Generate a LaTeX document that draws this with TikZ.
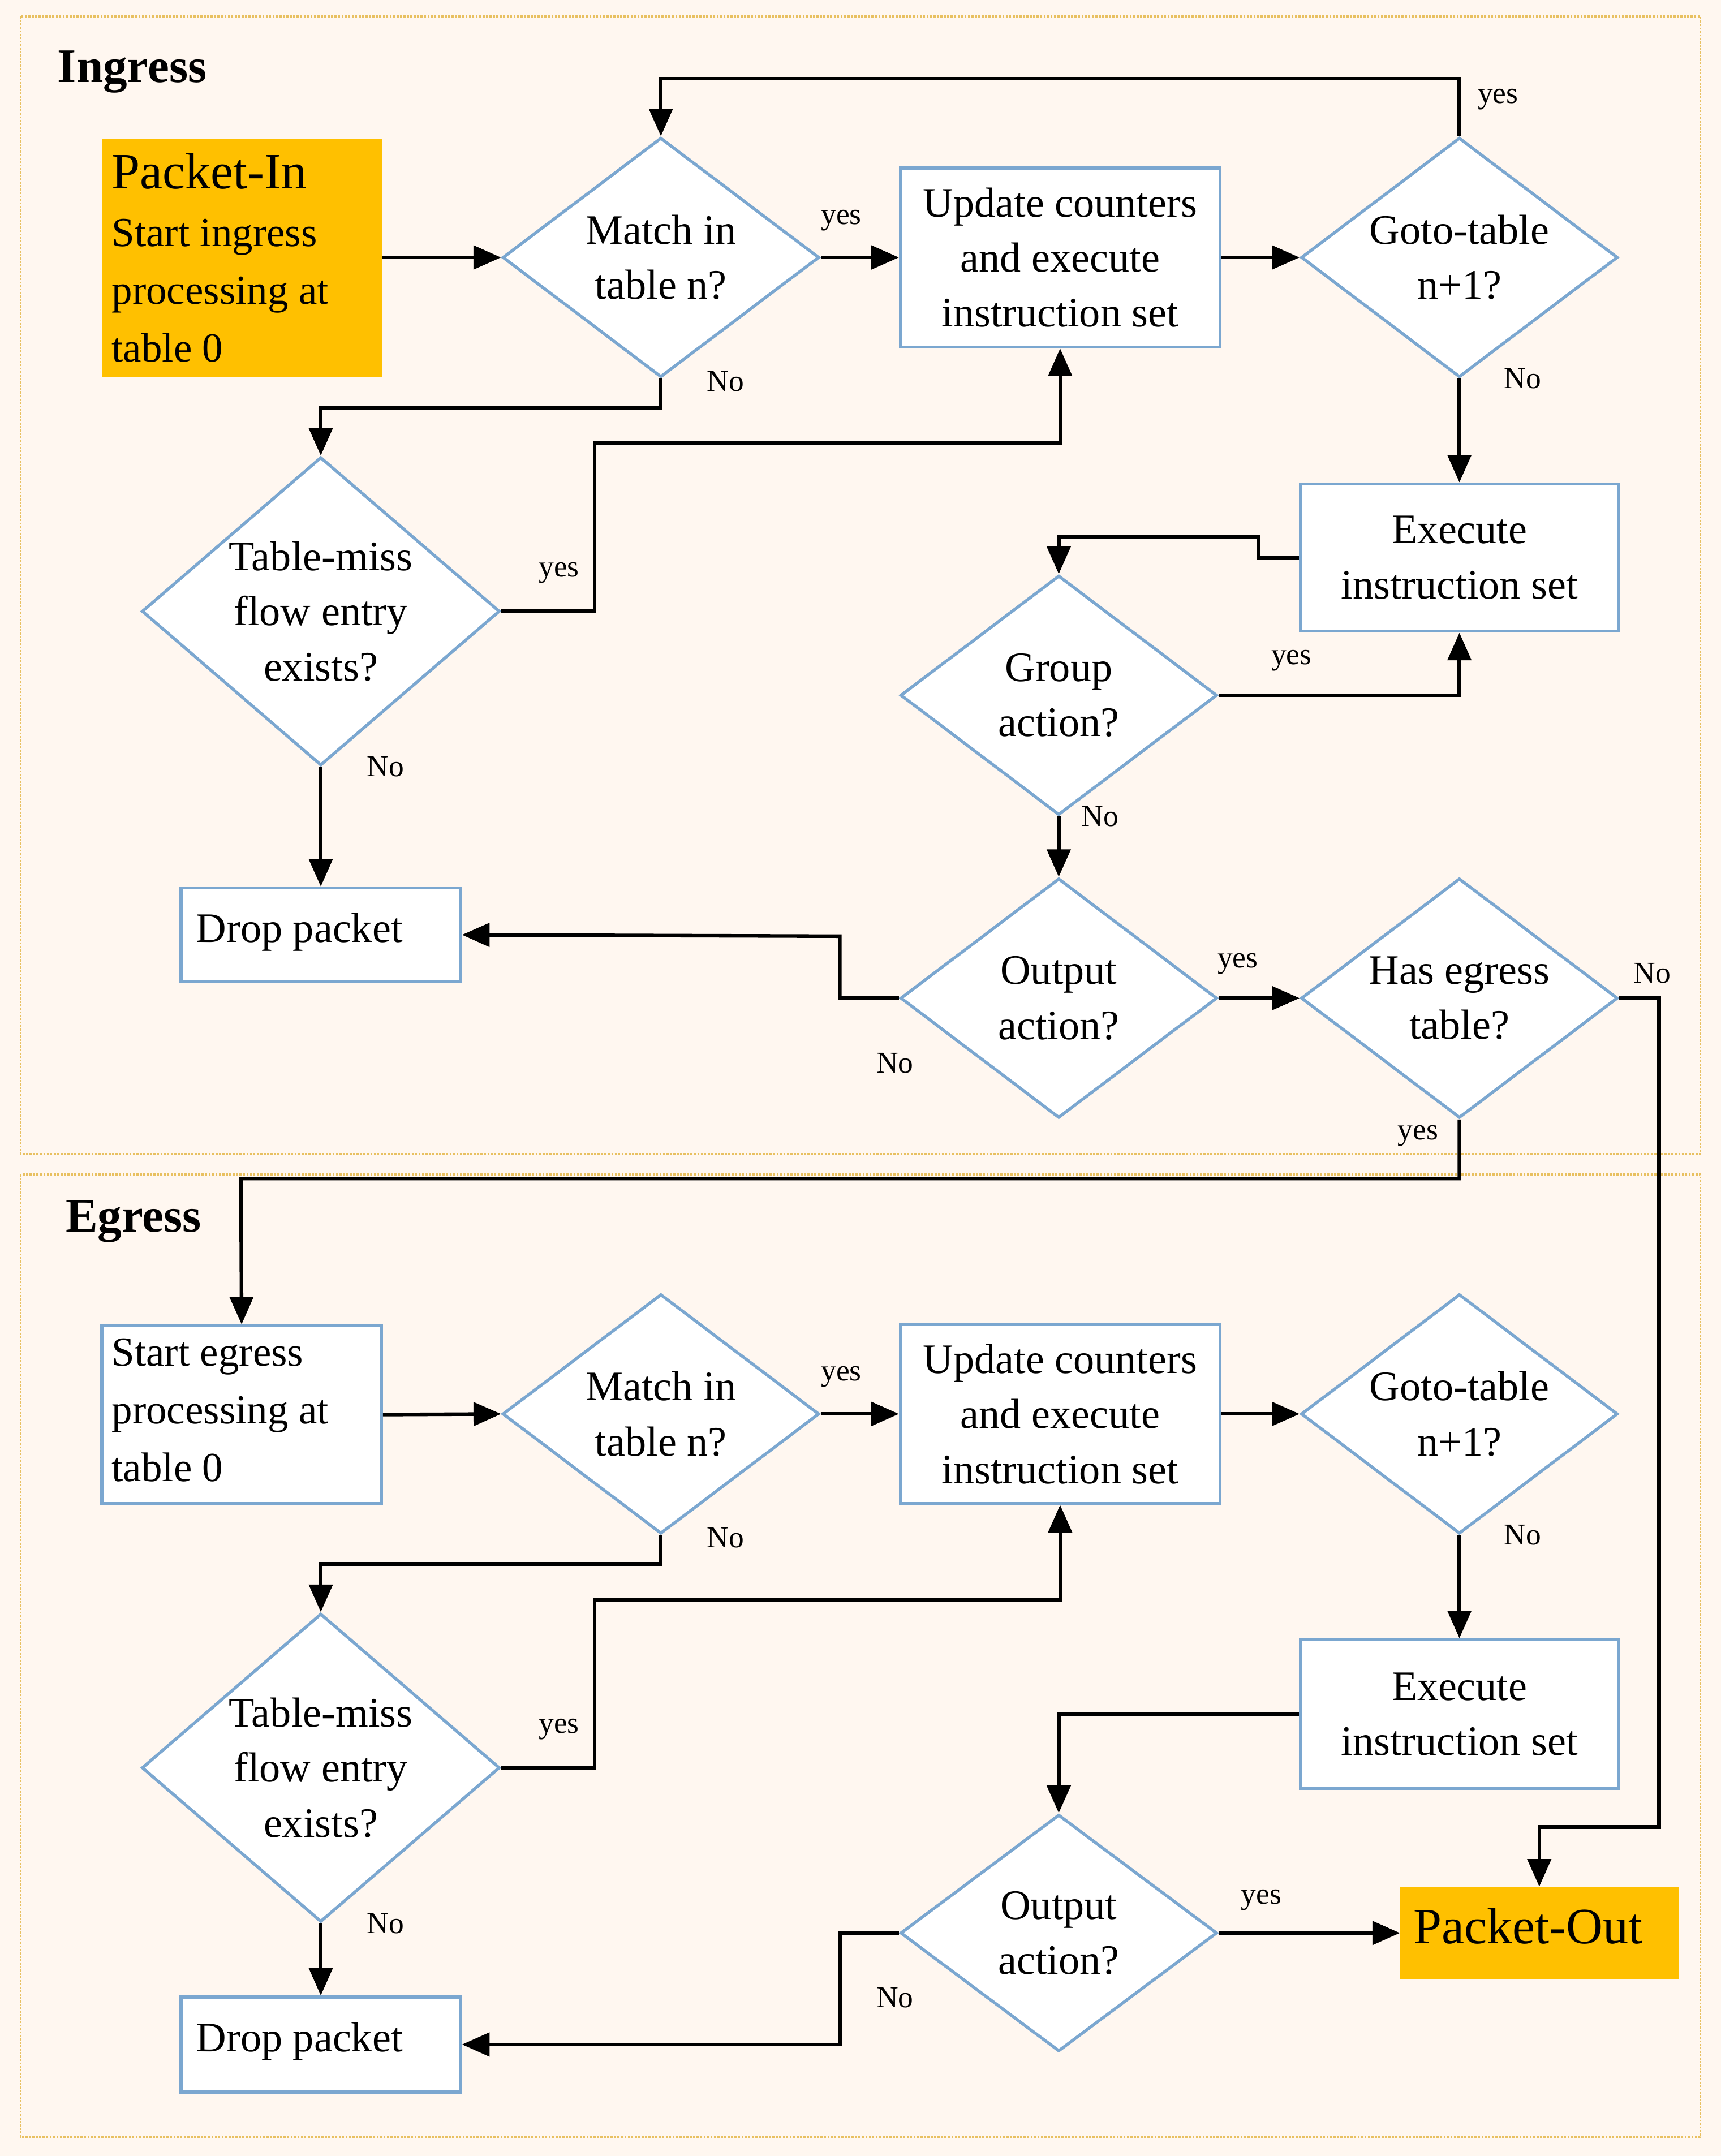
\documentclass[tikz,border=0pt]{standalone}
\usepackage{fontspec}
\setmainfont{Liberation Serif}
\usetikzlibrary{shapes.geometric,arrows.meta}
\definecolor{bx}{HTML}{7BA7D0}
\definecolor{org}{HTML}{FFC000}
\definecolor{frm}{HTML}{E8C060}
\begin{document}
\begin{tikzpicture}[x=1pt,y=-1pt,
  box/.style={draw=bx,line width=2.2pt,fill=white,inner sep=0pt},
  dia/.style={shape=diamond,draw=bx,line width=2.2pt,fill=white,inner sep=0pt},
  txt/.style={align=center,font=\fontsize{30.5}{40}\selectfont},
  lab/.style={font=\fontsize{22}{24}\selectfont},
  con/.style={line width=2.6pt,-{Triangle[length=20pt,width=17pt]}},
  frame/.style={draw=frm,densely dotted,line width=1.5pt}]
\useasboundingbox (0,0) rectangle (1250,1566);
\fill[orange!6] (0,0) rectangle (1250,1566);
\draw[frame] (15,12) rectangle (1235,838);
\draw[frame] (15,853) rectangle (1235,1552);
\node[font=\fontsize{35}{38}\selectfont\bfseries] (ti) at (96,52) {Ingress};
\node[font=\fontsize{35}{38}\selectfont\bfseries] (te) at (97,887) {Egress};

% ---------- Ingress ----------
\node[fill=org,minimum width=203pt,minimum height=173pt,inner sep=0pt] (pin) at (176,187) {};
\node[align=left,anchor=north west,inner sep=0pt,font=\fontsize{30}{42}\selectfont] (pint) at (81,111)
 {{\fontsize{37}{42}\selectfont\underline{Packet-In}}\\Start ingress\\processing at\\table 0};
\node[dia,minimum width=230pt,minimum height=174pt] (m1) at (480,187) {};
\node[txt] at (m1) {Match in\\table n?};
\node[box,minimum width=232pt,minimum height=130pt] (u1) at (770,187) {};
\node[txt] at (u1) {Update counters\\and execute\\instruction set};
\node[dia,minimum width=230pt,minimum height=174pt] (g1) at (1060,187) {};
\node[txt] at (g1) {Goto-table\\n+1?};
\node[dia,minimum width=260pt,minimum height=224pt] (t1) at (233,444) {};
\node[txt] at (t1) {Table-miss\\flow entry\\exists?};
\node[box,minimum width=231pt,minimum height=107pt] (e1) at (1060,405) {};
\node[txt] at (e1) {Execute\\instruction set};
\node[dia,minimum width=230pt,minimum height=174pt] (gr) at (769,505) {};
\node[txt] at (gr) {Group\\action?};
\node[box,minimum width=203pt,minimum height=68pt] (d1) at (233,679) {};
\node[txt,anchor=west] at (139,677) {Drop packet};
\node[dia,minimum width=230pt,minimum height=174pt] (o1) at (769,725) {};
\node[txt] at (o1) {Output\\action?};
\node[dia,minimum width=230pt,minimum height=174pt] (he) at (1060,725) {};
\node[txt] at (he) {Has egress\\table?};

% ---------- Egress ----------
\node[box,minimum width=203pt,minimum height=129pt] (se) at (175.5,1027.5) {};
\node[align=left,anchor=north west,inner sep=0pt,font=\fontsize{30}{42}\selectfont] (set) at (81,972)
 {Start egress\\processing at\\table 0};
\node[dia,minimum width=230pt,minimum height=174pt] (m2) at (480,1027) {};
\node[txt] at (m2) {Match in\\table n?};
\node[box,minimum width=232pt,minimum height=130pt] (u2) at (770,1027) {};
\node[txt] at (u2) {Update counters\\and execute\\instruction set};
\node[dia,minimum width=230pt,minimum height=174pt] (g2) at (1060,1027) {};
\node[txt] at (g2) {Goto-table\\n+1?};
\node[dia,minimum width=260pt,minimum height=224pt] (t2) at (233,1284) {};
\node[txt] at (t2) {Table-miss\\flow entry\\exists?};
\node[box,minimum width=231pt,minimum height=108pt] (e2) at (1060,1245) {};
\node[txt] at (e2) {Execute\\instruction set};
\node[dia,minimum width=230pt,minimum height=172pt] (o2) at (769,1404) {};
\node[txt] at (o2) {Output\\action?};
\node[box,minimum width=203pt,minimum height=69pt] (d2) at (233,1485) {};
\node[txt,anchor=west] at (139,1483) {Drop packet};
\node[fill=org,minimum width=202pt,minimum height=67pt,inner sep=0pt] (pout) at (1118,1404) {};
\node[font=\fontsize{37}{40}\selectfont] at (1110,1400) {\underline{Packet-Out}};

% ---------- connectors ingress ----------
\draw[con] (pin.east) -- (m1.west);
\draw[con] (m1.east) -- (u1.west);
\draw[con] (u1.east) -- (g1.west);
\draw[con] (g1.north) -- (1060,57) -- (480,57) -- (m1.north);
\draw[con] (m1.south) -- (480,296) -- (233,296) -- (t1.north);
\draw[con] (t1.east) -- (432,444) -- (432,322) -- (770,322) -- (u1.south);
\draw[con] (t1.south) -- (d1.north);
\draw[con] (g1.south) -- (e1.north);
\draw[con] (e1.west) -- (914,405) -- (914,390) -- (769,390) -- (gr.north);
\draw[con] (gr.east) -- (1060,505) -- (e1.south);
\draw[con] (gr.south) -- (o1.north);
\draw[con] (o1.west) -- (610,725) -- (610,680) -- (d1.east);
\draw[con] (o1.east) -- (he.west);
\draw[con] (he.east) -- (1205,725) -- (1205,1327) -- (1118,1327) -- (pout.north);
\draw[con] (he.south) -- (1060,856) -- (175,856) -- (se.north);
% ---------- connectors egress ----------
\draw[con] (se.east) -- (m2.west);
\draw[con] (m2.east) -- (u2.west);
\draw[con] (u2.east) -- (g2.west);
\draw[con] (m2.south) -- (480,1136) -- (233,1136) -- (t2.north);
\draw[con] (t2.east) -- (432,1284) -- (432,1162) -- (770,1162) -- (u2.south);
\draw[con] (t2.south) -- (d2.north);
\draw[con] (g2.south) -- (e2.north);
\draw[con] (e2.west) -- (769,1245) -- (o2.north);
\draw[con] (o2.east) -- (pout.west);
\draw[con] (o2.west) -- (610,1404) -- (610,1485) -- (d2.east);

% ---------- labels ----------
\node[lab] at (611,160) {yes};
\node[lab] at (1088,72) {yes};
\node[lab] at (527,277) {No};
\node[lab] at (406,416) {yes};
\node[lab] at (280,557) {No};
\node[lab] at (1106,275) {No};
\node[lab] at (938,480) {yes};
\node[lab] at (799,593) {No};
\node[lab] at (650,772) {No};
\node[lab] at (899,700) {yes};
\node[lab] at (1200,707) {No};
\node[lab] at (1030,825) {yes};
\node[lab] at (611,1000) {yes};
\node[lab] at (527,1117) {No};
\node[lab] at (406,1256) {yes};
\node[lab] at (280,1397) {No};
\node[lab] at (1106,1115) {No};
\node[lab] at (916,1380) {yes};
\node[lab] at (650,1451) {No};
\end{tikzpicture}
\end{document}
